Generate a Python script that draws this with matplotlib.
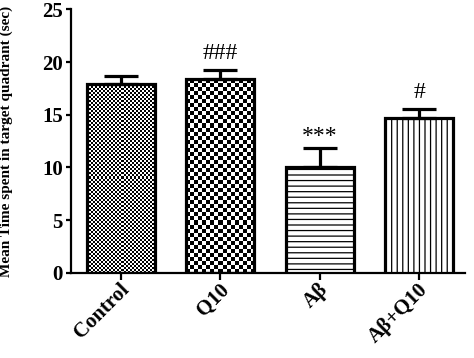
import numpy as np
import matplotlib
matplotlib.use("Agg")
import matplotlib.pyplot as plt
from matplotlib.transforms import ScaledTranslation

groups = ["Control", "Q10", "A\u03b2", "A\u03b2+Q10"]
means = [17.9, 18.4, 10.05, 14.7]
sems = [0.8, 0.8, 1.75, 0.85]
marks = ["", "###", "***", "#"]

plt.rcParams["font.family"] = ["Liberation Serif", "DejaVu Serif"]
plt.rcParams["hatch.linewidth"] = 0.9

fig = plt.figure(figsize=(4.74, 3.58), dpi=100)
ax = fig.add_axes([0.149, 0.238, 0.832, 0.736])

x = np.arange(len(groups))
width = 0.685
fills = ["none", "none", "white", "white"]
hatches = ["", "", "---", "|||"]
bars = ax.bar(x, means, width=width, color=fills, edgecolor="black",
              linewidth=2.3, zorder=3)
for b, h in zip(bars, hatches):
    b.set_hatch(h)

ax.set_xlim(-0.507, 3.46)
ax.set_ylim(0, 25)

# checkerboard fills for the first two bars
px_per_x = fig.get_figwidth() * fig.dpi * 0.832 / (3.46 + 0.507)
px_per_y = fig.get_figheight() * fig.dpi * 0.736 / 25
for b, sq in [(bars[0], 2.0), (bars[1], 4.0)]:
    x0, w, h = b.get_x(), b.get_width(), b.get_height()
    nx = int(round(w * px_per_x / sq))
    ny = int(round(h * px_per_y / sq))
    board = np.add.outer(np.arange(ny), np.arange(nx)) % 2
    im = ax.imshow(board, cmap="gray", interpolation="nearest", origin="lower",
                   extent=(x0, x0 + w, 0, h), aspect="auto", zorder=2)
    im.set_clip_path(b)
ax.set_xlim(-0.507, 3.46)
ax.set_ylim(0, 25)

ax.errorbar(x, means, yerr=[np.zeros(len(x)), sems], fmt="none", ecolor="black",
            elinewidth=2.3, capsize=12, capthick=2.3, zorder=4)

for xi, m, s, t in zip(x, means, sems, marks):
    if t:
        off = 0.6 if t == "***" else 1.05
        ax.text(xi, m + s + off, t, ha="center", va="baseline", fontsize=17,
                fontweight="normal")

ax.spines["top"].set_visible(False)
ax.spines["right"].set_visible(False)
ax.spines["left"].set_linewidth(1.6)
ax.spines["bottom"].set_linewidth(1.6)

ax.set_yticks([0, 5, 10, 15, 20, 25])
ax.tick_params(axis="y", length=3.5, width=1.6, pad=2, labelsize=15)
ax.tick_params(axis="x", length=5, width=1.6, pad=2, labelsize=15)
for lab in ax.get_yticklabels():
    lab.set_fontweight("bold")

ax.set_xticks(x)
ax.set_xticklabels(groups, rotation=45, ha="right", rotation_mode="anchor",
                   fontweight="bold")
offset = ScaledTranslation(-1 / 72, 2 / 72, fig.dpi_scale_trans)
for lab in ax.get_xticklabels():
    lab.set_transform(lab.get_transform() + offset)

ax.set_ylabel("Mean Time spent in target quadrant (sec)", fontsize=11,
              fontweight="bold")
ax.yaxis.set_label_coords(-0.147, 0.5)

fig.savefig("out.png", dpi=100)
